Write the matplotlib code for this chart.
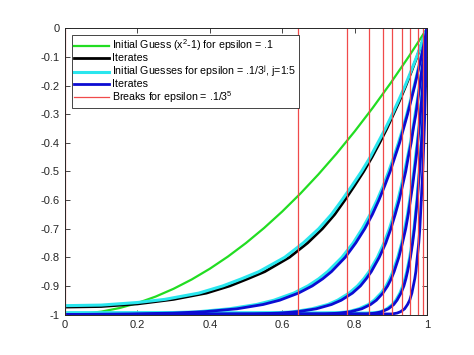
import matplotlib
matplotlib.use("Agg")
import matplotlib.pyplot as plt

plt.rcParams['font.family'] = ['Liberation Sans', 'DejaVu Sans']
plt.rcParams['mathtext.fontset'] = 'custom'
plt.rcParams['mathtext.rm'] = 'Liberation Sans'
plt.rcParams['mathtext.it'] = 'Liberation Sans'

# ---- data ----
green_x = [0, 0.05, 0.1, 0.15, 0.2, 0.25, 0.3, 0.35, 0.4, 0.45, 0.5, 0.55, 0.6, 0.65, 0.7,
           0.75, 0.8, 0.85, 0.9, 0.95, 1.0]
green_u = [-1.0, -0.9975, -0.99, -0.9775, -0.96, -0.9375, -0.91, -0.8775, -0.84, -0.7975, -0.75,
           -0.6975, -0.64, -0.5775, -0.51, -0.4375, -0.36, -0.2775, -0.19, -0.0975, 0.0]

black_x = [0, 0.1, 0.2, 0.3, 0.391, 0.4555, 0.505, 0.552, 0.62, 0.670, 0.711, 0.745, 0.773,
           0.7995, 0.825, 0.848, 0.869, 0.889, 0.907, 0.925, 0.9415, 0.957, 0.972, 0.986, 1.0]
black_u = [-0.974, -0.972, -0.963, -0.947, -0.925, -0.90, -0.875, -0.85, -0.80, -0.75, -0.70, -0.65,
           -0.60, -0.55, -0.50, -0.45, -0.40, -0.35, -0.30, -0.25, -0.20, -0.15, -0.10, -0.05, 0.0]

cyan1_x = [0, 0.1, 0.2, 0.276, 0.370, 0.436, 0.488, 0.536, 0.607, 0.658, 0.701, 0.736, 0.765,
           0.7925, 0.819, 0.843, 0.864, 0.885, 0.904, 0.922, 0.9395, 0.9555, 0.971, 0.9855, 1.0]
cyan1_u = [-0.969, -0.967, -0.958, -0.947, -0.925, -0.90, -0.875, -0.85, -0.80, -0.75, -0.70, -0.65,
           -0.60, -0.55, -0.50, -0.45, -0.40, -0.35, -0.30, -0.25, -0.20, -0.15, -0.10, -0.05, 0.0]

# common u-levels for the steep boundary-layer curves
u_levels = [-1.0, -0.998, -0.995, -0.99, -0.98, -0.965, -0.95, -0.925, -0.9, -0.875, -0.85, -0.8,
            -0.75, -0.7, -0.65, -0.6, -0.55, -0.5, -0.45, -0.4, -0.35, -0.3, -0.25, -0.2, -0.15,
            -0.1, -0.05, 0.0]
u_levels_cyan = [-0.995, -0.995, -0.994, -0.991, -0.98, -0.965, -0.95, -0.925, -0.9, -0.875, -0.85,
                 -0.8, -0.75, -0.7, -0.65, -0.6, -0.55, -0.5, -0.45, -0.4, -0.35, -0.3, -0.25, -0.2,
                 -0.15, -0.1, -0.05, 0.0]

blue1_x = [0, 0.180, 0.297, 0.386, 0.475, 0.547, 0.593, 0.645, 0.683, 0.712, 0.736, 0.774, 0.803,
           0.828, 0.849, 0.867, 0.883, 0.898, 0.911, 0.924, 0.935, 0.946, 0.956, 0.966, 0.975,
           0.984, 0.992, 1.0]
blue2_x = [0, 0.523, 0.591, 0.643, 0.694, 0.736, 0.763, 0.794, 0.816, 0.832, 0.846, 0.868, 0.886,
           0.900, 0.912, 0.923, 0.932, 0.941, 0.948, 0.956, 0.962, 0.969, 0.9745, 0.980, 0.985,
           0.9905, 0.9953, 1.0]
blue3_x = [0, 0.718, 0.758, 0.789, 0.8195, 0.844, 0.860, 0.878, 0.891, 0.901, 0.909, 0.922, 0.932,
           0.941, 0.948, 0.954, 0.960, 0.965, 0.970, 0.974, 0.978, 0.9815, 0.985, 0.988, 0.991,
           0.994, 0.997, 1.0]
blue4_x = [0, 0.833, 0.857, 0.875, 0.893, 0.908, 0.917, 0.928, 0.936, 0.9415, 0.946, 0.954, 0.960,
           0.965, 0.969, 0.973, 0.976, 0.979, 0.982, 0.9845, 0.987, 0.989, 0.991, 0.993, 0.995,
           0.9967, 0.9984, 1.0]
blue5_x = [0, 0.903, 0.917, 0.927, 0.938, 0.946, 0.952, 0.958, 0.962, 0.966, 0.969, 0.973, 0.977,
           0.980, 0.982, 0.984, 0.986, 0.988, 0.9895, 0.991, 0.9923, 0.9936, 0.9948, 0.996, 0.997,
           0.998, 0.999, 1.0]

cyan2_x = [0, 0.148, 0.270, 0.362, 0.454, 0.529, 0.577, 0.632, 0.671, 0.701, 0.7255, 0.765, 0.796,
           0.821, 0.843, 0.862, 0.879, 0.894, 0.908, 0.921, 0.933, 0.944, 0.9545, 0.9646, 0.974,
           0.983, 0.9917, 1.0]
cyan3_x = [0, 0.5035, 0.5745, 0.628, 0.682, 0.726, 0.753, 0.785, 0.808, 0.8255, 0.840, 0.863, 0.881,
           0.896, 0.9085, 0.9195, 0.929, 0.938, 0.946, 0.954, 0.961, 0.967, 0.9735, 0.979, 0.985,
           0.990, 0.995, 1.0]
cyan4_x = [0, 0.707, 0.749, 0.780, 0.812, 0.838, 0.854, 0.873, 0.887, 0.897, 0.9055, 0.919, 0.930,
           0.938, 0.946, 0.952, 0.958, 0.9635, 0.968, 0.973, 0.977, 0.981, 0.984, 0.988, 0.991,
           0.994, 0.997, 1.0]
cyan5_x = [0, 0.827, 0.852, 0.8705, 0.889, 0.904, 0.914, 0.925, 0.933, 0.939, 0.944, 0.952, 0.9585,
           0.9637, 0.968, 0.972, 0.975, 0.9785, 0.981, 0.984, 0.986, 0.9886, 0.9908, 0.9928, 0.9947,
           0.9966, 0.9983, 1.0]

breaks = [0, 0.643, 0.779, 0.839, 0.878, 0.904, 0.931, 0.953, 0.975, 0.99, 1.0]

x_ticks = [0, 0.2, 0.4, 0.6, 0.8, 1.0]
x_ticklabels = ['0', '0.2', '0.4', '0.6', '0.8', '1']
y_ticks = [0, -0.1, -0.2, -0.3, -0.4, -0.5, -0.6, -0.7, -0.8, -0.9, -1.0]
y_ticklabels = ['0', '-0.1', '-0.2', '-0.3', '-0.4', '-0.5', '-0.6', '-0.7', '-0.8', '-0.9', '-1']

labels = ['Initial Guess (x$\\mathregular{^2}$-1) for epsilon = .1',
          'Iterates',
          'Initial Guesses for epsilon = .1/3$\\mathregular{^j}$, j=1:5',
          'Iterates',
          'Breaks for epsilon = .1/3$\\mathregular{^5}$']

GREEN = '#22dd22'
CYAN = '#2ae6ee'
BLUE = '#0c0cd2'
RED = '#f04a4a'

fig = plt.figure(figsize=(4.74, 3.55), dpi=100)
ax = fig.add_axes([0.137, 0.114, 0.764, 0.806])

lg, = ax.plot(green_x, green_u, color=GREEN, lw=1.6)
lb, = ax.plot(black_x, black_u, color='black', lw=2.0)
lc = None
for cx, cu in [(cyan1_x, cyan1_u), (cyan2_x, u_levels_cyan), (cyan3_x, u_levels_cyan),
               (cyan4_x, u_levels_cyan), (cyan5_x, u_levels_cyan)]:
    l, = ax.plot(cx, cu, color=CYAN, lw=2.2)
    if lc is None:
        lc = l
lbl = None
for bx in [blue1_x, blue2_x, blue3_x, blue4_x, blue5_x]:
    l, = ax.plot(bx, u_levels, color=BLUE, lw=2.0)
    if lbl is None:
        lbl = l
lr = None
for b in breaks:
    l = ax.axvline(b, color=RED, lw=0.9)
    if lr is None:
        lr = l

ax.set_xlim(0, 1)
ax.set_ylim(-1, 0)
ax.set_xticks(x_ticks)
ax.set_xticklabels(x_ticklabels)
ax.set_yticks(y_ticks)
ax.set_yticklabels(y_ticklabels)
ax.tick_params(direction='in', length=3.5, width=0.6, labelsize=8, colors='#262626',
               top=True, right=True, pad=4)
for s in ax.spines.values():
    s.set_linewidth(0.7)
    s.set_color('#262626')

leg = ax.legend([lg, lb, lc, lbl, lr], labels, loc='upper left',
                bbox_to_anchor=(0.0185, 0.977), borderaxespad=0, fontsize=7.7,
                handlelength=3.2, handletextpad=0.35, labelspacing=0.0,
                borderpad=0.25, fancybox=False, framealpha=1, edgecolor='#262626')
leg.get_frame().set_linewidth(0.6)

fig.savefig('out.png', dpi=100)
